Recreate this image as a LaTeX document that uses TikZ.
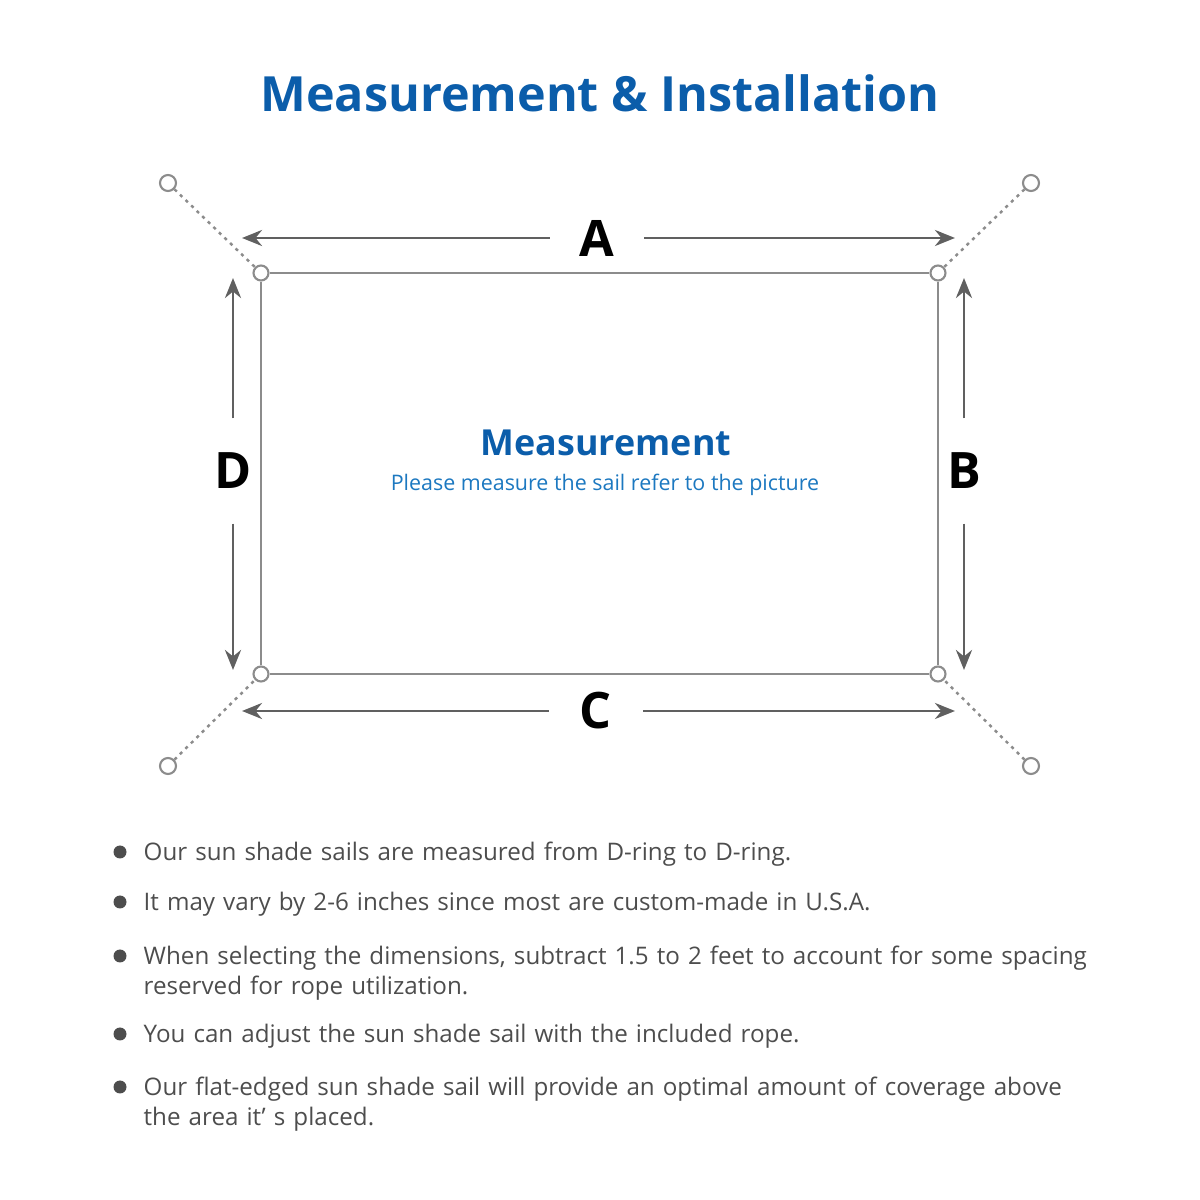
\documentclass[tikz,border=0pt]{standalone}
\usepackage{fontspec}
\setmainfont{Open Sans}
\usetikzlibrary{arrows.meta}
\definecolor{ssblue}{HTML}{0B5DAA}
\definecolor{sslight}{HTML}{1C78C0}
\definecolor{ssframe}{HTML}{8C8C8C}
\definecolor{ssarrow}{HTML}{606060}
\definecolor{sstext}{HTML}{4D4D4D}

\begin{document}
\begin{tikzpicture}[x=1cm, y=1cm,
    title/.style={text=ssblue, font=\fontsize{13.8}{16}\selectfont\bfseries, inner sep=0pt},
    sail/.style={draw=ssframe, line width=0.8pt},
    ring/.style={circle, draw=ssframe, fill=white, line width=0.6pt, inner sep=0pt, minimum size=1.5mm},
    anchorpt/.style={circle, draw=ssframe, fill=white, line width=0.6pt, inner sep=0pt, minimum size=1.6mm},
    rope/.style={draw=ssframe, line width=0.7pt, dash pattern=on 0.9pt off 1.3pt},
    dim/.style={draw=ssarrow, line width=0.85pt, -{Stealth[length=2mm, width=1.6mm]}},
    dimlabel/.style={text=black, font=\fontsize{14.3}{17}\selectfont\bfseries, inner sep=0pt},
    dot/.style={circle, fill=sstext, draw=none, inner sep=0pt, minimum size=1.3mm},
    item/.style={text=sstext, font=\fontsize{6.88}{8.3}\selectfont, inner sep=0pt, align=left, text width=10cm},
  ]
  \useasboundingbox (0, 0) rectangle (12, 12);

  % heading
  \node[title] (title) at (6.00, 11.07) {Measurement \& Installation};

  % fixing points and the rings at the sail corners
  \foreach \n/\x/\y in {oTL/1.68/10.17, oTR/10.31/10.17, oBL/1.68/4.34, oBR/10.31/4.34} {
    \node[anchorpt] (\n) at (\x, \y) {};
  }
  \foreach \n/\x/\y in {rTL/2.61/9.27, rTR/9.38/9.27, rBL/2.61/5.26, rBR/9.38/5.26} {
    \node[ring] (\n) at (\x, \y) {};
  }

  % sail outline
  \draw[sail] (rTL) -- (rTR);
  \draw[sail] (rTR) -- (rBR);
  \draw[sail] (rBR) -- (rBL);
  \draw[sail] (rBL) -- (rTL);

  % ropes
  \draw[rope] (oTL) -- (rTL);
  \draw[rope] (oTR) -- (rTR);
  \draw[rope] (oBL) -- (rBL);
  \draw[rope] (oBR) -- (rBR);

  % dimension labels, the gap in each arrow is the node size
  \node[dimlabel, minimum width=0.93cm] (A) at (5.97, 9.62) {A};
  \node[dimlabel, minimum width=0.93cm] (C) at (5.96, 4.89) {C};
  \node[dimlabel, minimum height=1.04cm] (D) at (2.33, 7.29) {D};
  \node[dimlabel, minimum height=1.04cm] (B) at (9.64, 7.29) {B};

  \coordinate (aL) at (2.42, 9.62);
  \coordinate (aR) at (9.55, 9.62);
  \coordinate (cL) at (2.42, 4.89);
  \coordinate (cR) at (9.55, 4.89);
  \coordinate (dT) at (2.33, 9.22);
  \coordinate (dB) at (2.33, 5.30);
  \coordinate (bT) at (9.64, 9.22);
  \coordinate (bB) at (9.64, 5.30);

  \draw[dim] (A) -- (aL);
  \draw[dim] (A) -- (aR);
  \draw[dim] (C) -- (cL);
  \draw[dim] (C) -- (cR);
  \draw[dim] (D) -- (dT);
  \draw[dim] (D) -- (dB);
  \draw[dim] (B) -- (bT);
  \draw[dim] (B) -- (bB);

  % text inside the sail
  \node[text=ssblue, font=\fontsize{10.2}{12}\selectfont\bfseries, inner sep=0pt] (sailname) at (6.06, 7.57) {Measurement};
  \node[text=sslight, font=\fontsize{6.1}{7}\selectfont, inner sep=0pt] (sailnote) at (6.05, 7.15) {Please measure the sail refer to the picture};

  % notes
  \foreach \y/\txt [count=\i] in {
      3.48/{Our sun shade sails are measured from D-ring to D-ring.},
      2.98/{It may vary by 2-6 inches since most are custom-made in U.S.A.},
      2.44/{When selecting the dimensions, subtract 1.5 to 2 feet to account for some spacing\\reserved for rope utilization.},
      1.66/{You can adjust the sun shade sail with the included rope.},
      1.13/{Our flat-edged sun shade sail will provide an optimal amount of coverage above\\the area it’ s placed.}} {
    \node[dot] (dot\i) at (1.20, \y) {};
    \node[item, anchor=base west] (item\i) at (1.43, \y - 0.09) {\txt};
  }
\end{tikzpicture}
\end{document}
